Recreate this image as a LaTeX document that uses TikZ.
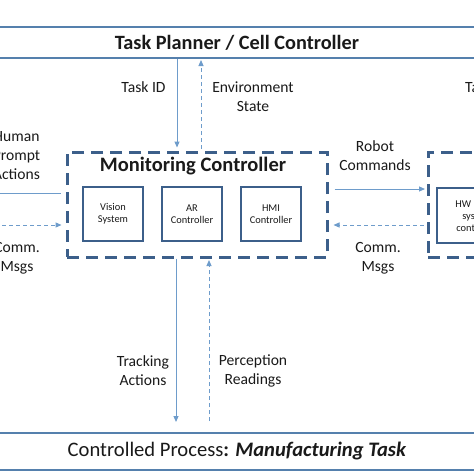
\documentclass[tikz,border=0pt]{standalone}
\usepackage{fontspec}
\setmainfont{Carlito}
\usetikzlibrary{arrows.meta}
\definecolor{barblue}{HTML}{5580AD}
\definecolor{boxblue}{HTML}{3C5F8A}
\definecolor{arrblue}{HTML}{6E9CCB}
\definecolor{txt}{HTML}{1A1A1A}
\tikzset{
 bar/.style={draw=barblue, line width=2pt, minimum width=494pt, inner sep=0pt, text=txt},
 dbox/.style={draw=boxblue, line width=3pt, dash pattern=on 12pt off 7pt, inner sep=0pt},
 ibox/.style={draw=boxblue, line width=2.6pt, minimum width=60pt, minimum height=54pt, inner sep=0pt, align=center, font=\fontsize{10.4}{12}\selectfont, text=txt},
 lbl/.style={align=center, font=\fontsize{15.6}{19}\selectfont, text=txt, inner sep=0pt},
 plainline/.style={draw=arrblue, line width=1pt},
 solidarr/.style={plainline, -{Triangle[length=6pt,width=5pt]}},
 dasharr/.style={solidarr, dash pattern=on 4pt off 3pt},
}
\begin{document}
\begin{tikzpicture}[x=1pt,y=-1pt]
\clip (0,0) rectangle (474,474);
\fill[white] (0,0) rectangle (474,474);
% bars
\node[bar, minimum height=31pt, font=\fontsize{20.3}{24}\selectfont\bfseries] (top) at (237,42.5) {Task Planner / Cell Controller};
\node[bar, minimum height=37pt, font=\fontsize{20.6}{25}\selectfont] (bot) at (237,451.5) {Controlled Process\textbf{: \textit{Manufacturing Task}}};
% monitoring controller
\node[dbox, minimum width=260pt, minimum height=105pt] (mon) at (197,204.5) {};
\node[inner sep=0pt, text=txt, font=\fontsize{20.5}{24}\selectfont\bfseries] (montitle) at (193,166) {Monitoring Controller};
\node[ibox] (vis) at (113,214) {Vision\\System};
\node[ibox] (ar) at (192,214) {AR\\Controller};
\node[ibox] (hmi) at (271,214) {HMI\\Controller};
% right robot box
\node[dbox, minimum width=112pt, minimum height=105pt] (rbox) at (484,204.5) {};
\node[ibox, minimum width=80pt, minimum height=55pt] (hw) at (477,215.5) {HW Robot\\system\\controller};
% coordinates for connectors
\coordinate (a1) at (177,0);
\coordinate (a2) at (201,0);
\coordinate (a3) at (176,0);
\coordinate (a4) at (209,0);
\coordinate (r1) at (0,189);
\coordinate (r2) at (0,225);
\coordinate (lh) at (-5,193);
\coordinate (lc) at (-5,225);
% connectors
\draw[solidarr, shorten >=3pt] (top.south -| a1) -- (mon.north -| a1);
\draw[dasharr, shorten <=2pt, shorten >=1pt] (mon.north -| a2) -- (top.south -| a2);
\draw[solidarr, shorten >=10pt] (mon.south -| a3) -- (bot.north -| a3);
\draw[dasharr, shorten <=11pt, shorten >=1.5pt] (bot.north -| a4) -- (mon.south -| a4);
\draw[solidarr, shorten <=6pt, shorten >=1.5pt] (mon.east |- r1) -- (rbox.west |- r1);
\draw[dasharr, shorten <=3pt, shorten >=5pt] (rbox.west |- r2) -- (mon.east |- r2);
\draw[plainline, shorten >=5pt] (lh) -- (mon.west |- lh);
\draw[dasharr, shorten >=4pt] (lc) -- (mon.west |- lc);
% labels
\node[lbl] (ltask) at (143.5,87) {Task ID};
\node[lbl] (lenv) at (253,96.5) {Environment\\State};
\node[lbl] (lhum) at (16.5,156) {Human\\Prompt\\Actions};
\node[lbl] (lcomm) at (17,258) {Comm.\\Msgs};
\node[lbl] (lrob) at (375,155.5) {Robot\\Commands};
\node[lbl] (rcomm) at (378,258) {Comm.\\Msgs};
\node[lbl] (ltrack) at (143,371) {Tracking\\Actions};
\node[lbl] (lperc) at (253,371) {Perception\\Readings};
\node[lbl, anchor=west] (rtask) at (465,87) {Task ID};
\end{tikzpicture}
\end{document}
